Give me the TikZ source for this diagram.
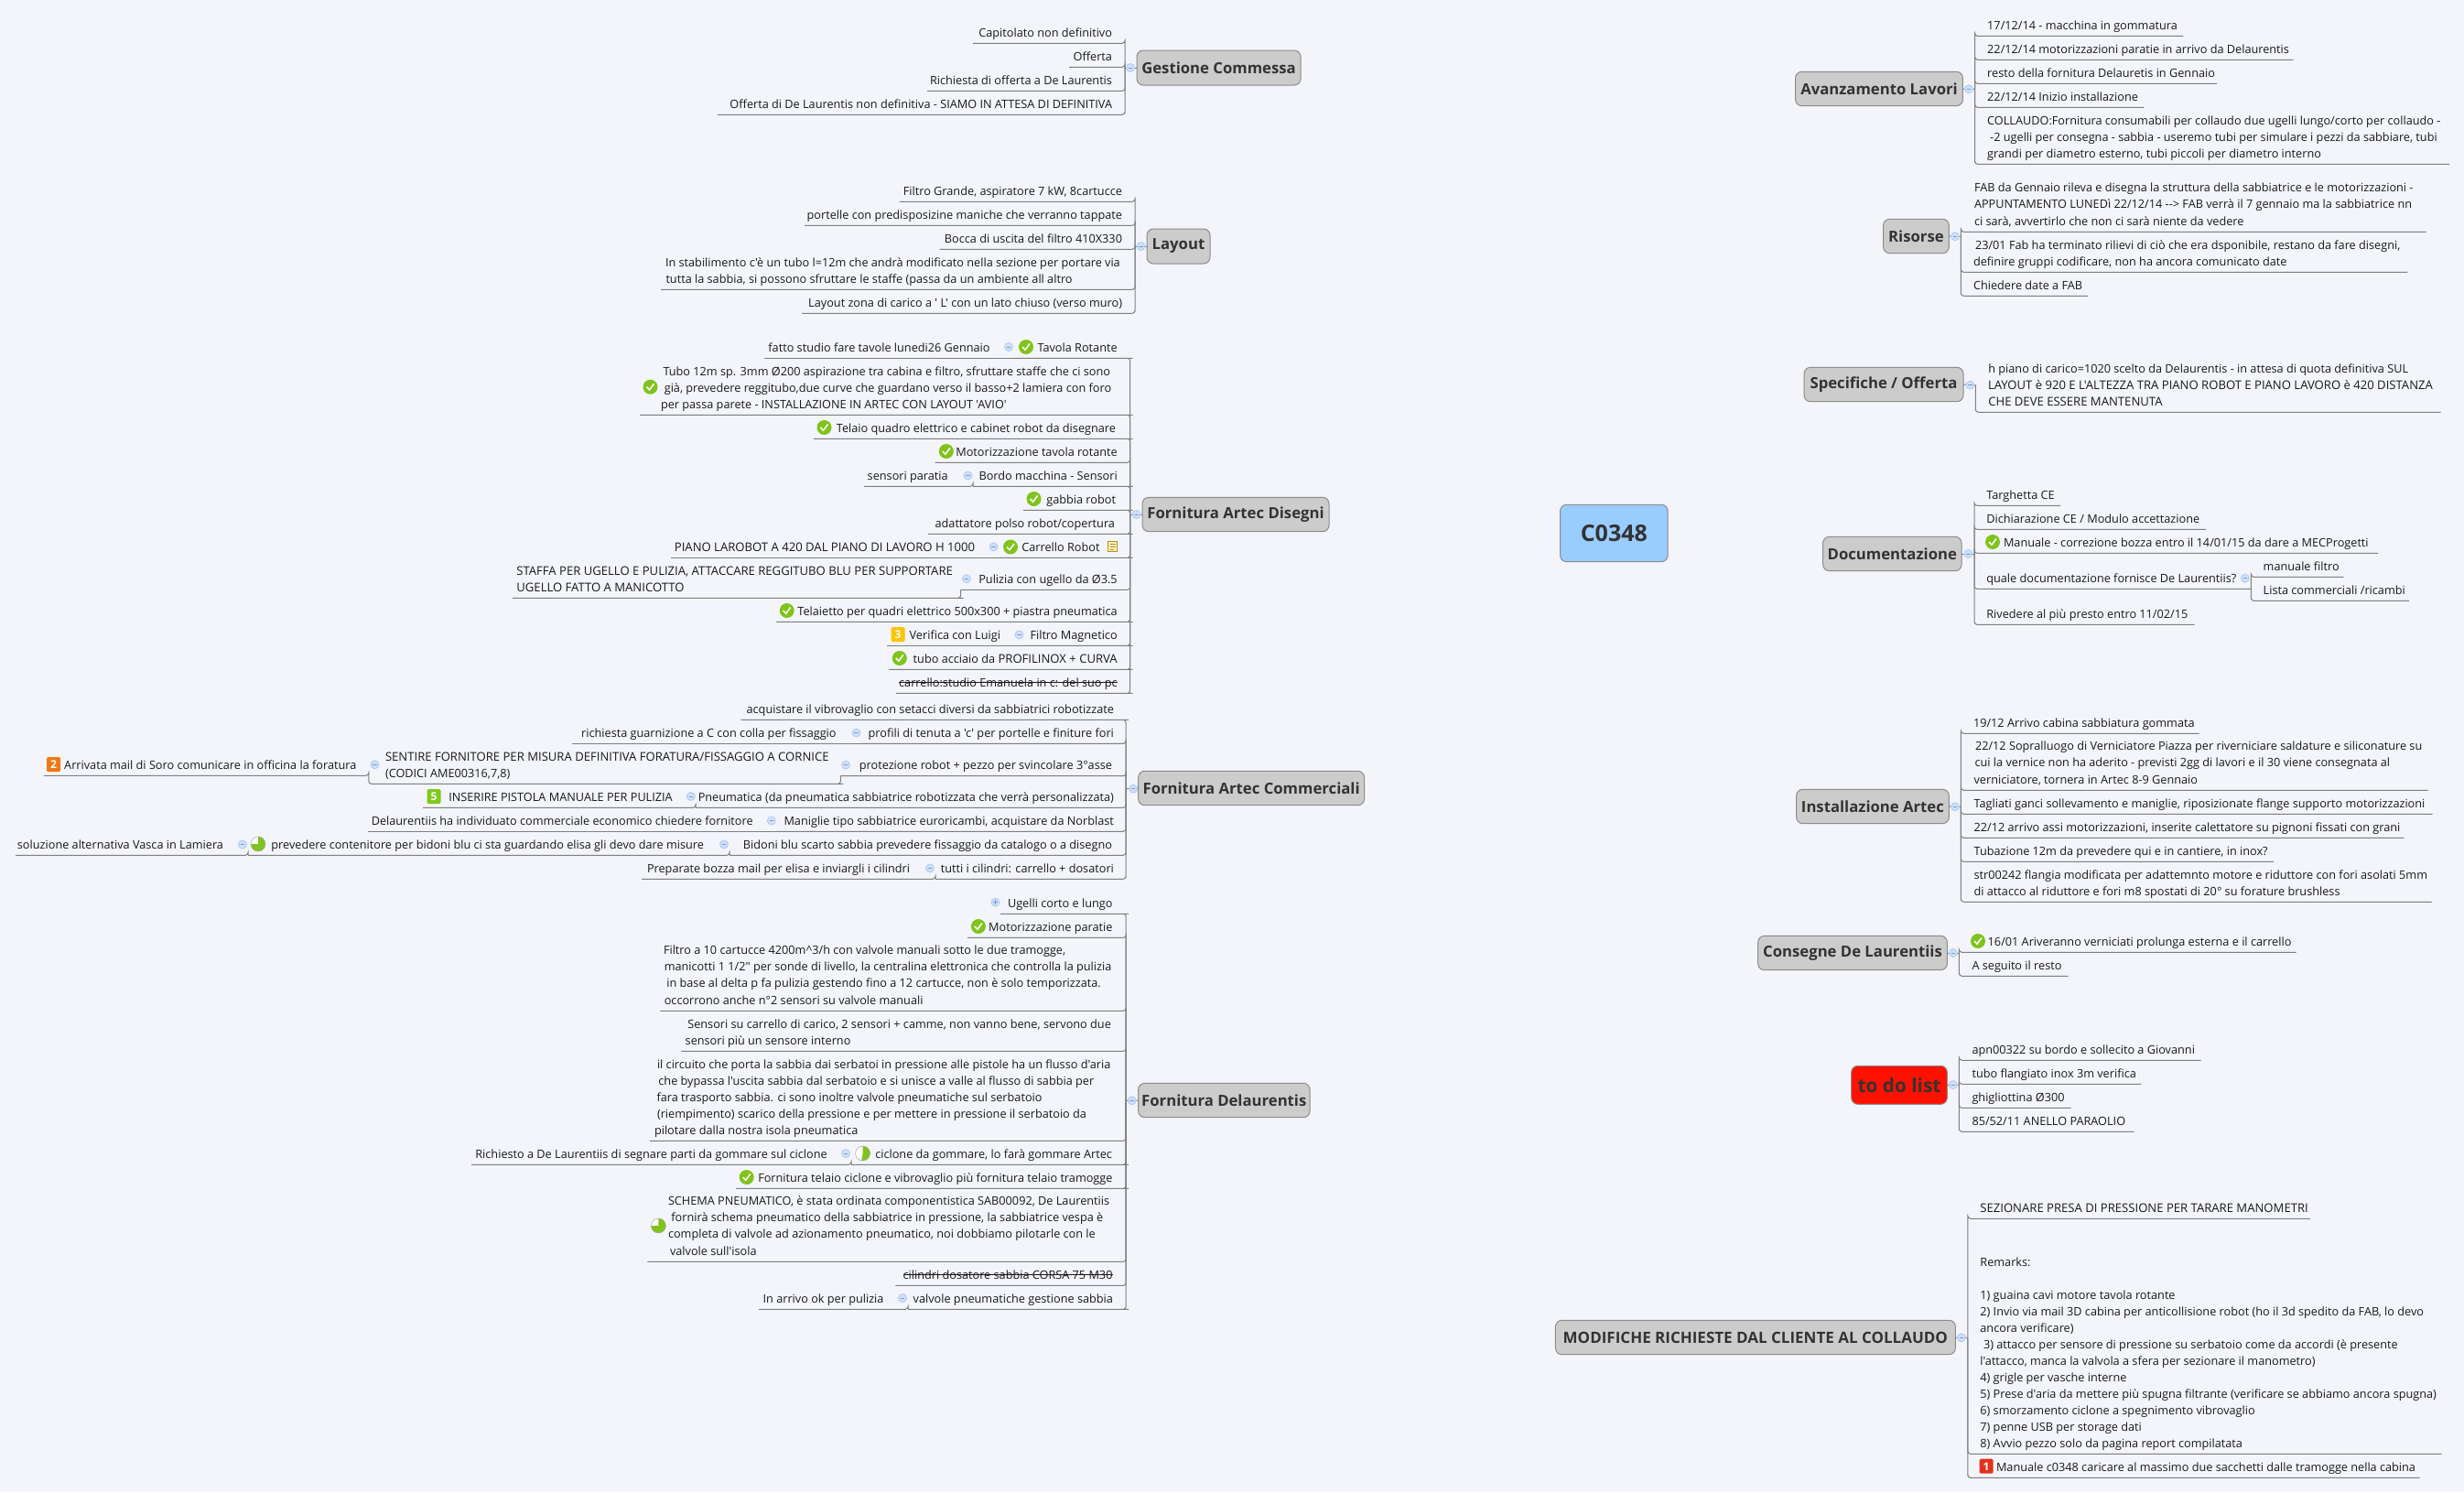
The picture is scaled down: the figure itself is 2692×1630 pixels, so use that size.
\documentclass[tikz,border=0pt]{standalone}
\usepackage{fontspec}
\setmainfont[Ligatures=TeXOff]{Open Sans}
\definecolor{bgc}{HTML}{F3F5FA}
\definecolor{linec}{HTML}{7F7F7F}
\definecolor{boxc}{HTML}{CCCCCC}
\definecolor{boxl}{HTML}{8C8C8C}
\definecolor{topc}{HTML}{333333}
\definecolor{chkc}{HTML}{80C31C}
\definecolor{dotc}{HTML}{CFE0FB}
\definecolor{dotl}{HTML}{A9C6F2}
\definecolor{dotm}{HTML}{7F9CC8}
\newcommand\TxtF{\fontsize{12.7}{18}\selectfont}
\newcommand\Cpf{\fontsize{13.1}{18}\selectfont}
\tikzset{
 item/.style={inner xsep=0pt,inner ysep=4.2pt,outer sep=0pt,text depth=3pt,font=\TxtF,text=black!90},
 conn/.style={draw=linec,line width=1pt,rounded corners=3pt},
 topic/.style={draw=boxl,line width=1pt,rounded corners=7pt,fill=boxc,inner sep=0pt,outer sep=0pt,text=topc,font=\fontsize{16.7}{20}\selectfont\bfseries},
 tdot/.style={circle,draw=dotl,fill=dotc,line width=.7pt,minimum size=9pt,inner sep=0pt,outer sep=0pt,
   path picture={\draw[dotm,line width=.7pt] ([xshift=-2.2pt]path picture bounding box.center)--([xshift=2.2pt]path picture bounding box.center);}},
 pdot/.style={tdot,path picture={\draw[dotm,line width=.8pt] ([xshift=-2.4pt]path picture bounding box.center)--([xshift=2.4pt]path picture bounding box.center) ([yshift=-2.4pt]path picture bounding box.center)--([yshift=2.4pt]path picture bounding box.center);}},
 badge/.style={rounded corners=1.5pt,minimum width=15pt,minimum height=16pt,inner sep=0pt,text=white,font=\fontsize{12}{12}\selectfont\bfseries},
}
\newcommand\Xa{}\newcommand\Xb{}\newcommand\Wd{}
\newcommand\Item[5]{%
 \def\Xa{#2}\def\Xb{#3}%
 \pgfmathsetlengthmacro\Wd{#3pt-#2pt}%
 \node[item,anchor=south west] (#1) at (#2,#4) {\vbox{\hsize=\Wd\relax\baselineskip=18pt\lineskiplimit=-100pt\lineskip=0pt #5}};}
\newcommand\Lf[2]{\hbox to \hsize{\hspace*{\dimexpr#1pt-\Xa pt\relax}#2\hss}}
\newcommand\Rt[2]{\hbox to \hsize{\hss#2\hspace*{\dimexpr\Xb pt-#1pt\relax}}}
\newcommand\Bl{\hbox{}}
\newcommand\St[1]{\sbox0{#1}\rlap{\usebox0}\rule[4.2pt]{\wd0}{.7pt}}
\newcommand\Topic[7]{\node[topic,#6,minimum width=#4pt-#2pt,minimum height=#5pt-#3pt] (#1) at ({(#2+#4)/2},{(#3+#5)/2}) {#7};}
\newcommand\Dotn[3]{\node[tdot] (#1) at (#2,#3) {};}
\newcommand\KidL[2]{\draw[conn] (#1) |- (#2.south east) -- (#2.south west);}
\newcommand\KidR[2]{\draw[conn] (#1) |- (#2.south west) -- (#2.south east);}
\newcommand\SubL[2]{\draw[conn] (#1.south west) -- (#2.south east) -- (#2.south west);}
\newcommand\Chk[2]{\fill[chkc] (#1,#2) circle[radius=8pt];\draw[white,line width=1.5pt] (#1-4,#2) -- (#1-1,#2+3.2) -- (#1+4,#2-3.5);}
\newcommand\Pie[3]{\fill[white] (#1,#2) circle[radius=8pt];\fill[chkc] (#1,#2) -- ++(0,-8) arc[start angle=90,delta angle=-#3,radius=8pt] -- cycle;\draw[black!35,line width=.5pt] (#1,#2) circle[radius=8pt];}
\begin{document}
\begin{tikzpicture}[x=1pt,y=-1pt]
\useasboundingbox[fill=bgc] (0,0) rectangle (2692,1630);
%
\node[topic,fill={rgb,255:red,153;green,204;blue,255},minimum width=117.5pt,minimum height=62.4pt,rounded corners=7pt,font=\fontsize{25}{28}\selectfont\bfseries] (root) at (1763.3,582.5) {C0348};
%
% Gestione Commessa
\Topic{gc}{1242}{55}{1421}{93}{}{Gestione Commessa}
\coordinate (gcS) at (1229,74);
\Item{gca}{1063}{1229}{47.3}{\Rt{1215}{Capitolato non definitivo}}
\Item{gcb}{1168}{1229}{73.3}{\Rt{1215}{Offerta}}
\Item{gcc}{1013}{1229}{99.3}{\Rt{1215}{Richiesta di offerta a De Laurentis}}
\Item{gcd}{784}{1229}{125.3}{\Rt{1215}{Offerta di De Laurentis non definitiva - SIAMO IN ATTESA DI DEFINITIVA}}
\foreach \k in {gca,gcb,gcc,gcd}{\KidL{gcS}{\k}}
\draw[conn] (gc.west) -- (gcS);
\Dotn{gcD}{1235}{74}
%
% Layout
\Topic{lay}{1253}{250}{1322}{288}{}{Layout}
\coordinate (layS) at (1240,269);
\Item{laya}{982.5}{1240}{220.3}{\Rt{1226}{Filtro Grande, aspiratore 7 kW, 8cartucce}}
\Item{layb}{879}{1240}{246.3}{\Rt{1226}{portelle con predisposizine maniche che verranno tappate}}
\Item{layc}{1026.5}{1240}{272.3}{\Rt{1226}{Bocca di uscita del filtro 410X330}}
\Item{layd}{722}{1240}{316.3}{\Lf{727}{In stabilimento c'è un tubo l=12m che andrà modificato nella sezione per portare via}\Lf{727.5}{tutta la sabbia, si possono sfruttare le staffe (passa da un ambiente all altro}}
\Item{laye}{876}{1240}{342.3}{\Rt{1226}{Layout zona di carico a ' L' con un lato chiuso (verso muro)}}
\foreach \k in {laya,layb,layc,layd,laye}{\KidL{layS}{\k}}
\draw[conn] (lay.west) -- (layS);
\Dotn{layD}{1246.5}{269}
%
% Fornitura Artec Disegni
\Topic{fd}{1248}{543.3}{1452}{580.7}{}{Fornitura Artec Disegni}
\coordinate (fdS) at (1234.7,562);
\Item{fda}{1108}{1234.7}{391.3}{\Rt{1220.7}{Tavola Rotante}}
\Item{fdas}{834.8}{1108}{391.3}{\Rt{1081.6}{fatto studio fare tavole lunedi26 Gennaio}}
\Item{fdb}{699}{1234.7}{453.3}{\Lf{724.5}{Tubo 12m sp. 3mm Ø200 aspirazione tra cabina e filtro, sfruttare staffe che ci sono}\Lf{725.8}{già, prevedere reggitubo,due curve che guardano verso il basso+2 lamiera con foro}\Lf{722}{per passa parete - INSTALLAZIONE IN ARTEC CON LAYOUT 'AVIO'}}
\Item{fdc}{889}{1234.7}{479.3}{\Rt{1219}{Telaio quadro elettrico e cabinet robot da disegnare}}
\Item{fdd}{1021.7}{1234.7}{505.3}{\Rt{1220.7}{Motorizzazione tavola rotante}}
\Item{fde}{1063}{1234.7}{531.3}{\Rt{1220.7}{Bordo macchina - Sensori}}
\Item{fdes}{943.9}{1063}{531.3}{\Rt{1035.7}{sensori paratia}}
\Item{fdf}{1118}{1234.7}{557.3}{\Rt{1219}{gabbia robot}}
\Item{fdg}{1014}{1234.7}{583.3}{\Rt{1218}{adattatore polso robot/copertura}}
\Item{fdh}{1091}{1234.7}{609.3}{\Rt{1201.5}{Carrello Robot}}
\Item{fdhs}{732.8}{1091}{609.3}{\Rt{1065}{\Cpf PIANO LAROBOT A 420 DAL PIANO DI LAVORO H 1000}}
\Item{fdi}{1049.7}{1234.7}{644.3}{\Rt{1220.7}{Pulizia con ugello da Ø3.5}}
\Item{fdis}{560}{1049.7}{653.3}{\Lf{564.4}{\Cpf STAFFA PER UGELLO E PULIZIA, ATTACCARE REGGITUBO BLU PER SUPPORTARE}\Lf{564.4}{\Cpf UGELLO FATTO A MANICOTTO}}
\Item{fdj}{848}{1234.7}{679.3}{\Rt{1220.7}{Telaietto per quadri elettrico 500x300 + piastra pneumatica}}
\Item{fdk}{1119}{1234.7}{705.3}{\Rt{1220.7}{Filtro Magnetico}}
\Item{fdks}{968.7}{1119}{705.3}{\Rt{1093}{Verifica con Luigi}}
\Item{fdl}{971}{1234.7}{731.3}{\Rt{1220.7}{tubo acciaio da \Cpf PROFILINOX + CURVA}}
\Item{fdm}{979}{1234.7}{757.3}{\Rt{1220.7}{\St{carrello:studio Emanuela in c: del suo pc}}}
\foreach \k in {fda,fdb,fdc,fdd,fde,fdf,fdg,fdh,fdi,fdj,fdk,fdl,fdm}{\KidL{fdS}{\k}}
\SubL{fda}{fdas}\SubL{fde}{fdes}\SubL{fdh}{fdhs}\SubL{fdk}{fdks}
\draw[conn] (fdi.south west) |- (fdis.south east) -- (fdis.south west);
\draw[conn] (fd.west) -- (fdS);
\Dotn{fdD}{1241.7}{562}
\Dotn{fdaD}{1102}{379}\Dotn{fdeD}{1057.4}{519.5}\Dotn{fdhD}{1085.5}{597.5}\Dotn{fdiD}{1056}{632.3}\Dotn{fdkD}{1113.5}{693.5}
\Chk{1121}{379}\Chk{710.5}{422.7}\Chk{900.5}{467}\Chk{1033.8}{493}\Chk{1129.5}{545}\Chk{1104}{597.5}\Chk{859.7}{667}\Chk{982.8}{719}
\node[badge,fill={rgb,255:red,255;green,195;blue,0}] (b3) at (981,693) {3};
\draw[draw={rgb,255:red,190;green,140;blue,30},fill={rgb,255:red,255;green,240;blue,190},line width=1pt] (1210.5,591) rectangle (1220.5,602.5);
\draw[draw={rgb,255:red,190;green,140;blue,30},line width=.8pt] (1212.5,594) -- (1218.5,594) (1212.5,597) -- (1218.5,597) (1212.5,600) -- (1216.5,600);
%
% Fornitura Artec Commerciali
\Topic{fc}{1243.7}{842.3}{1490.5}{879.7}{}{Fornitura Artec Commerciali}
\coordinate (fcS) at (1230,861.7);
\Item{fca}{809.3}{1230}{786.3}{\Rt{1216.9}{acquistare il vibrovaglio con setacci diversi da sabbiatrici robotizzate}}
\Item{fcb}{941}{1230}{812.3}{\Rt{1216.9}{profili di tenuta a 'c' per portelle e finiture fori}}
\Item{fcbs}{624.7}{941}{812.3}{\Rt{913.6}{richiesta guarnizione a  C con colla per fissaggio}}
\Item{fcc}{918.4}{1230}{847.7}{\Rt{1215}{protezione robot + pezzo per svincolare 3°asse}}
\Item{fccs}{402.8}{918.4}{856.3}{\Lf{421}{\Cpf SENTIRE FORNITORE PER MISURA DEFINITIVA FORATURA/FISSAGGIO A CORNICE}\Lf{421}{(CODICI AME00316,7,8)}}
\Item{fccss}{47.8}{402.8}{847.3}{\Rt{389.4}{Arrivata mail di Soro comunicare in officina la foratura}}
\Item{fcd}{760}{1230}{882.3}{\Rt{1216.9}{Pneumatica (da pneumatica sabbiatrice robotizzata che verrà personalizzata)}}
\Item{fcds}{462}{760}{882.3}{\Rt{734.7}{INSERIRE PISTOLA MANUALE PER PULIZIA}}
\Item{fce}{848}{1230}{908.3}{\Rt{1216.9}{Maniglie tipo sabbiatrice euroricambi, acquistare da Norblast}}
\Item{fces}{401.8}{848}{908.3}{\Rt{822.7}{Delaurentiis ha individuato commerciale economico chiedere fornitore}}
\Item{fcf}{797}{1230}{934.3}{\Rt{1215}{Bidoni blu scarto sabbia prevedere fissaggio da catalogo o  a disegno}}
\Item{fcfs}{271}{797}{934.3}{\Rt{769}{prevedere contenitore per bidoni blu ci sta guardando elisa gli devo dare misure}}
\Item{fcfss}{17}{271}{934.3}{\Rt{244}{soluzione alternativa Vasca in Lamiera}}
\Item{fcg}{1022}{1230}{960.3}{\Rt{1216.9}{tutti i cilindri: carrello + dosatori}}
\Item{fcgs}{701}{1022}{960.3}{\Rt{994}{Preparate bozza mail per elisa e inviargli i cilindri}}
\foreach \k in {fca,fcb,fcc,fcd,fce,fcf,fcg}{\KidL{fcS}{\k}}
\SubL{fcb}{fcbs}\SubL{fcd}{fcds}\SubL{fce}{fces}\SubL{fcf}{fcfs}\SubL{fcfs}{fcfss}\SubL{fcg}{fcgs}
\draw[conn] (fcc.south west) |- (fccs.south east) -- (fccs.south west) |- (fccss.south east) -- (fccss.south west);
\draw[conn] (fc.west) -- (fcS);
\Dotn{fcD}{1238}{861.7}
\Dotn{fcbD}{935.6}{800.5}\Dotn{fccD}{924}{835.7}\Dotn{fccsD}{409.5}{835.3}\Dotn{fcdD}{754.8}{870}\Dotn{fceD}{842.8}{896.5}\Dotn{fcfD}{791}{922.5}\Dotn{fcfsD}{265}{922.5}\Dotn{fcgD}{1016}{948.5}
\Pie{282}{922}{270}
\node[badge,fill={rgb,255:red,240;green,120;blue,20}] (b2) at (58.5,835) {2};
\node[badge,fill={rgb,255:red,130;green,200;blue,30}] (b5) at (474,870) {5};
%
% Fornitura Delaurentis
\Topic{fl}{1243.6}{1183.3}{1431}{1220.7}{}{Fornitura Delaurentis}
\coordinate (flS) at (1230.2,1202.3);
\Item{fla}{1093}{1230.2}{998.3}{\Rt{1215.5}{Ugelli corto e lungo}}
\Item{flb}{1056.8}{1230.2}{1024.3}{\Rt{1215.5}{Motorizzazione paratie}}
\Item{flc}{721.3}{1230.2}{1104.3}{\Lf{725}{Filtro a 10 cartucce 4200m\textasciicircum 3/h con valvole manuali sotto le due tramogge,}\Lf{725.8}{manicotti 1 1/2" per sonde di livello, la centralina elettronica che controlla la pulizia}\Lf{728.3}{in base al delta p fa pulizia gestendo fino a 12 cartucce, non è solo temporizzata.}\vskip1pt\Lf{725.8}{occorrono anche n°2 sensori su valvole manuali}}
\Item{fld}{744.3}{1230.2}{1148.3}{\Lf{751.3}{Sensori su carrello di carico, 2 sensori + camme, non vanno bene, servono due}\Lf{748.7}{sensori più un sensore interno}}
\Item{fle}{709.8}{1230.2}{1246.3}{\Lf{718}{il circuito che porta la sabbia dai serbatoi in pressione alle pistole ha un flusso d'aria}\Lf{719.4}{che bypassa l'uscita sabbia dal serbatoio e si unisce a valle al flusso di sabbia per}\Lf{717.5}{fara trasporto sabbia. ci sono inoltre valvole pneumatiche sul serbatoio}\Lf{718}{(riempimento) scarico della pressione e per mettere in pressione il serbatoio da}\Lf{715}{pilotare dalla nostra isola pneumatica}}
\Item{flf}{930}{1230.2}{1272.3}{\Rt{1215}{ciclone da gommare, lo farà gommare Artec}}
\Item{flfs}{515}{930}{1272.3}{\Rt{903.7}{Richiesto a De Laurentiis di segnare parti da gommare sul ciclone}}
\Item{flg}{804}{1230.2}{1298.3}{\Rt{1215.5}{Fornitura telaio ciclone e vibrovaglio più fornitura telaio tramogge}}
\Item{flh}{707.3}{1230.2}{1378.3}{\Lf{730}{SCHEMA PNEUMATICO, è stata ordinata componentistica SAB00092, De Laurentiis}\Lf{733.4}{fornirà schema pneumatico della sabbiatrice in pressione, la sabbiatrice vespa è}\Lf{730}{completa di valvole ad azionamento pneumatico, noi dobbiamo pilotarle con le}\vskip1pt\Lf{732}{valvole sull'isola}}
\Item{fli}{978.3}{1230.2}{1404.3}{\Rt{1215.5}{\St{cilindri dosatore sabbia CORSA 75 M30}}}
\Item{flj}{992}{1230.2}{1430.3}{\Rt{1216}{valvole pneumatiche gestione sabbia}}
\Item{fljs}{829}{992}{1430.3}{\Rt{965.5}{In arrivo ok per pulizia}}
\foreach \k in {fla,flb,flc,fld,fle,flf,flg,flh,fli,flj}{\KidL{flS}{\k}}
\SubL{flf}{flfs}\SubL{flj}{fljs}
\draw[conn] (fl.west) -- (flS);
\Dotn{flD}{1236.6}{1202.3}
\node[pdot] (flaD) at (1087.4,985.7) {};
\Dotn{flfD}{924}{1260}\Dotn{fljD}{986}{1418}
\Chk{1068.9}{1012}\Chk{815.7}{1286}
\Pie{942.6}{1260}{190}\Pie{719.4}{1339}{270}
%
% Avanzamento Lavori
\Topic{av}{1961.6}{78.3}{2144.4}{115.7}{}{Avanzamento Lavori}
\coordinate (avS) at (2157.6,97.3);
\Item{ava}{2157.6}{2385.4}{39.3}{\Lf{2171.2}{17/12/14 - macchina in gommatura}}
\Item{avb}{2157.6}{2505.6}{65.3}{\Lf{2171.2}{22/12/14 motorizzazioni paratie in arrivo da Delaurentis}}
\Item{avc}{2157.6}{2422}{91.3}{\Lf{2171.2}{resto della fornitura Delauretis in Gennaio}}
\Item{avd}{2157.6}{2342.4}{117.3}{\Lf{2171.2}{22/12/14 Inizio installazione}}
\Item{ave}{2157.6}{2675.8}{179.3}{\Lf{2171.2}{COLLAUDO:Fornitura consumabili per collaudo due ugelli lungo/corto per collaudo -}\Lf{2174.2}{-2 ugelli per consegna - sabbia - useremo tubi per simulare i pezzi da sabbiare, tubi}\Lf{2171.2}{grandi per diametro esterno, tubi piccoli per diametro interno}}
\foreach \k in {ava,avb,avc,avd,ave}{\KidR{avS}{\k}}
\draw[conn] (av.east) -- (avS);
\Dotn{avD}{2151}{97.3}
%
% Risorse
\Topic{ri}{2057.6}{239.3}{2129.3}{276.7}{}{Risorse}
\coordinate (riS) at (2142.4,258.3);
\Item{ria}{2142.4}{2650.5}{253.3}{\Lf{2157}{FAB da Gennaio rileva e disegna la struttura della sabbiatrice e le motorizzazioni -}\Lf{2157}{APPUNTAMENTO LUNEDì 22/12/14 --> FAB verrà il 7 gennaio ma la sabbiatrice nn}\vskip1pt\Lf{2157}{ci sarà, avvertirlo che non ci sarà niente da vedere}}
\Item{rib}{2142.4}{2630.3}{297.3}{\Lf{2158}{23/01 Fab ha terminato rilievi di ciò che era dsponibile, restano da fare disegni,}\Lf{2156}{definire gruppi codificare, non ha ancora comunicato date}}
\Item{ric}{2142.4}{2281.3}{323.3}{\Lf{2156}{Chiedere date a FAB}}
\foreach \k in {ria,rib,ric}{\KidR{riS}{\k}}
\draw[conn] (ri.east) -- (riS);
\Dotn{riD}{2135.9}{258.3}
%
% Specifiche / Offerta
\Topic{sp}{1971}{401.3}{2145}{438.7}{}{Specifiche / Offerta}
\coordinate (spS) at (2158.4,420.7);
\Item{spa}{2158.4}{2666.7}{450.3}{\Lf{2172.3}{h piano di carico=1020 scelto da Delaurentis - in attesa di quota definitiva SUL}\Lf{2172}{\Cpf LAYOUT è 920 E L'ALTEZZA TRA PIANO ROBOT E PIANO LAVORO è 420 DISTANZA}\Lf{2172.3}{\Cpf CHE DEVE ESSERE MANTENUTA}}
\KidR{spS}{spa}
\draw[conn] (sp.east) -- (spS);
\Dotn{spD}{2152.4}{420.7}
%
% Documentazione
\Topic{dc}{1991.6}{586.3}{2143}{623.7}{}{Documentazione}
\coordinate (dcS) at (2157,605);
\Item{dca}{2157}{2251.4}{552.3}{\Lf{2170.3}{Targhetta CE}}
\Item{dcb}{2157}{2410}{578.3}{\Lf{2170.3}{Dichiarazione CE / Modulo accettazione}}
\Item{dcc}{2157}{2598.3}{604.3}{\Lf{2189}{Manuale - correzione bozza entro il 14/01/15 da dare a MECProgetti}}
\Item{dcd}{2157}{2459.4}{643.3}{\Lf{2170.3}{quale documentazione fornisce De Laurentiis?}}
\Item{dce}{2157}{2397.6}{682.3}{\Lf{2170.3}{Rivedere al più presto entro 11/02/15}}
\coordinate (dcdS) at (2459.4,631.7);
\Item{dcda}{2459.4}{2560.4}{630.3}{\Lf{2472.7}{manuale filtro}}
\Item{dcdb}{2459.4}{2632}{656.3}{\Lf{2472.7}{Lista commerciali /ricambi}}
\foreach \k in {dca,dcb,dcc,dcd,dce}{\KidR{dcS}{\k}}
\KidR{dcdS}{dcda}\KidR{dcdS}{dcdb}
\draw[conn] (dc.east) -- (dcS);
\Dotn{dcD}{2150.4}{605}\Dotn{dcdD}{2452.7}{631.7}
\Chk{2177}{592}
%
% Installazione Artec
\Topic{ia}{1962.6}{862.3}{2129.3}{899.7}{}{Installazione Artec}
\coordinate (iaS) at (2142.4,881.3);
\Item{iaa}{2142.4}{2402.5}{801.3}{\Lf{2156}{19/12 Arrivo cabina sabbiatura gommata}}
\Item{iab}{2142.4}{2652.5}{863.3}{\Lf{2158}{22/12 Sopralluogo di Verniciatore Piazza per riverniciare saldature e siliconature su}\Lf{2157.6}{cui la vernice non ha aderito - previsti 2gg di lavori e il 30 viene consegnata al}\vskip.6pt\Lf{2156.6}{verniciatore, tornera in Artec 8-9 Gennaio}}
\Item{iac}{2142.4}{2657.6}{889.3}{\Lf{2156.6}{Tagliati ganci sollevamento e maniglie, riposizionate flange supporto motorizzazioni}}
\Item{iad}{2142.4}{2626.3}{915.3}{\Lf{2156.6}{22/12 arrivo assi motorizzazioni, inserite calettatore su pignoni fissati con grani}}
\Item{iae}{2142.4}{2484.3}{941.3}{\Lf{2156.6}{Tubazione 12m da prevedere qui e in cantiere, in inox?}}
\Item{iaf}{2142.4}{2656.6}{985.3}{\Lf{2156.6}{str00242 flangia modificata per adattemnto motore e riduttore con fori asolati 5mm}\Lf{2156.6}{di attacco al riduttore e fori m8 spostati di 20° su forature brushless}}
\foreach \k in {iaa,iab,iac,iad,iae,iaf}{\KidR{iaS}{\k}}
\draw[conn] (ia.east) -- (iaS);
\Dotn{iaD}{2135.9}{881.3}
%
% Consegne De Laurentiis
\Topic{cd}{1920.7}{1022.3}{2127.3}{1059.7}{}{Consegne De Laurentiis}
\coordinate (cdS) at (2140.4,1041);
\Item{cda}{2140.4}{2508.6}{1040.3}{\Lf{2171.7}{16/01 Ariveranno verniciati prolunga esterna e il carrello}}
\Item{cdb}{2140.4}{2259.6}{1066.3}{\Lf{2154.5}{A seguito il resto}}
\KidR{cdS}{cda}\KidR{cdS}{cdb}
\draw[conn] (cd.east) -- (cdS);
\Dotn{cdD}{2133.8}{1041}
\Chk{2161}{1028}
%
% to do list
\Topic{td}{2022.7}{1164.3}{2127.3}{1206.3}{fill={rgb,255:red,255;green,17;blue,0},font=\fontsize{20.8}{24}\selectfont\bfseries}{to do list}
\coordinate (tdS) at (2140.4,1185);
\Item{tda}{2140.4}{2404.5}{1158.3}{\Lf{2154.5}{apn00322 su bordo e sollecito a Giovanni}}
\Item{tdb}{2140.4}{2339.4}{1184.3}{\Lf{2154.5}{tubo flangiato inox 3m verifica}}
\Item{tdc}{2140.4}{2262.6}{1210.3}{\Lf{2154.5}{ghigliottina Ø300}}
\Item{tdd}{2140.4}{2331.3}{1236.3}{\Lf{2154.5}{85/52/11 ANELLO PARAOLIO}}
\foreach \k in {tda,tdb,tdc,tdd}{\KidR{tdS}{\k}}
\draw[conn] (td.east) -- (tdS);
\Dotn{tdD}{2133.8}{1185}
%
% Modifiche
\Topic{mo}{1699.4}{1442.3}{2136.3}{1479.7}{font=\fontsize{17}{20}\selectfont\bfseries}{MODIFICHE RICHIESTE DAL CLIENTE AL COLLAUDO}
\coordinate (moS) at (2149.9,1461.3);
\Item{moa}{2149.9}{2524.2}{1331.3}{\Lf{2163.4}{\Cpf SEZIONARE PRESA DI PRESSIONE PER TARARE MANOMETRI}}
\Item{mob}{2149.9}{2667.5}{1588.3}{\Lf{2163.4}{Remarks:}\Bl\Lf{2163.4}{1) guaina cavi motore tavola rotante}\Lf{2163.4}{2) Invio via mail 3D cabina per anticollisione robot (ho il 3d spedito da FAB, lo devo}\Lf{2163.4}{ancora verificare)}\Lf{2167}{3) attacco per sensore di pressione su serbatoio come da accordi (è presente}\Lf{2163.4}{l'attacco, manca la valvola a sfera per sezionare il manometro)}\Lf{2163.4}{4) grigle per vasche interne}\Lf{2163.4}{5) Prese d'aria da mettere più spugna filtrante (verificare se abbiamo ancora spugna)}\Lf{2163.4}{6) smorzamento ciclone a spegnimento vibrovaglio}\Lf{2163.4}{7) penne USB per storage dati}\Lf{2163.4}{8) Avvio pezzo solo da pagina report compilatata}}
\Item{moc}{2149.9}{2643.6}{1614.3}{\Lf{2181}{Manuale c0348 caricare al massimo due sacchetti dalle tramogge nella cabina}}
\foreach \k in {moa,mob,moc}{\KidR{moS}{\k}}
\draw[conn] (mo.east) -- (moS);
\Dotn{moD}{2142.8}{1461.3}
\node[badge,fill={rgb,255:red,225;green,50;blue,30}] (b1) at (2170,1601.7) {1};
\end{tikzpicture}
\end{document}
